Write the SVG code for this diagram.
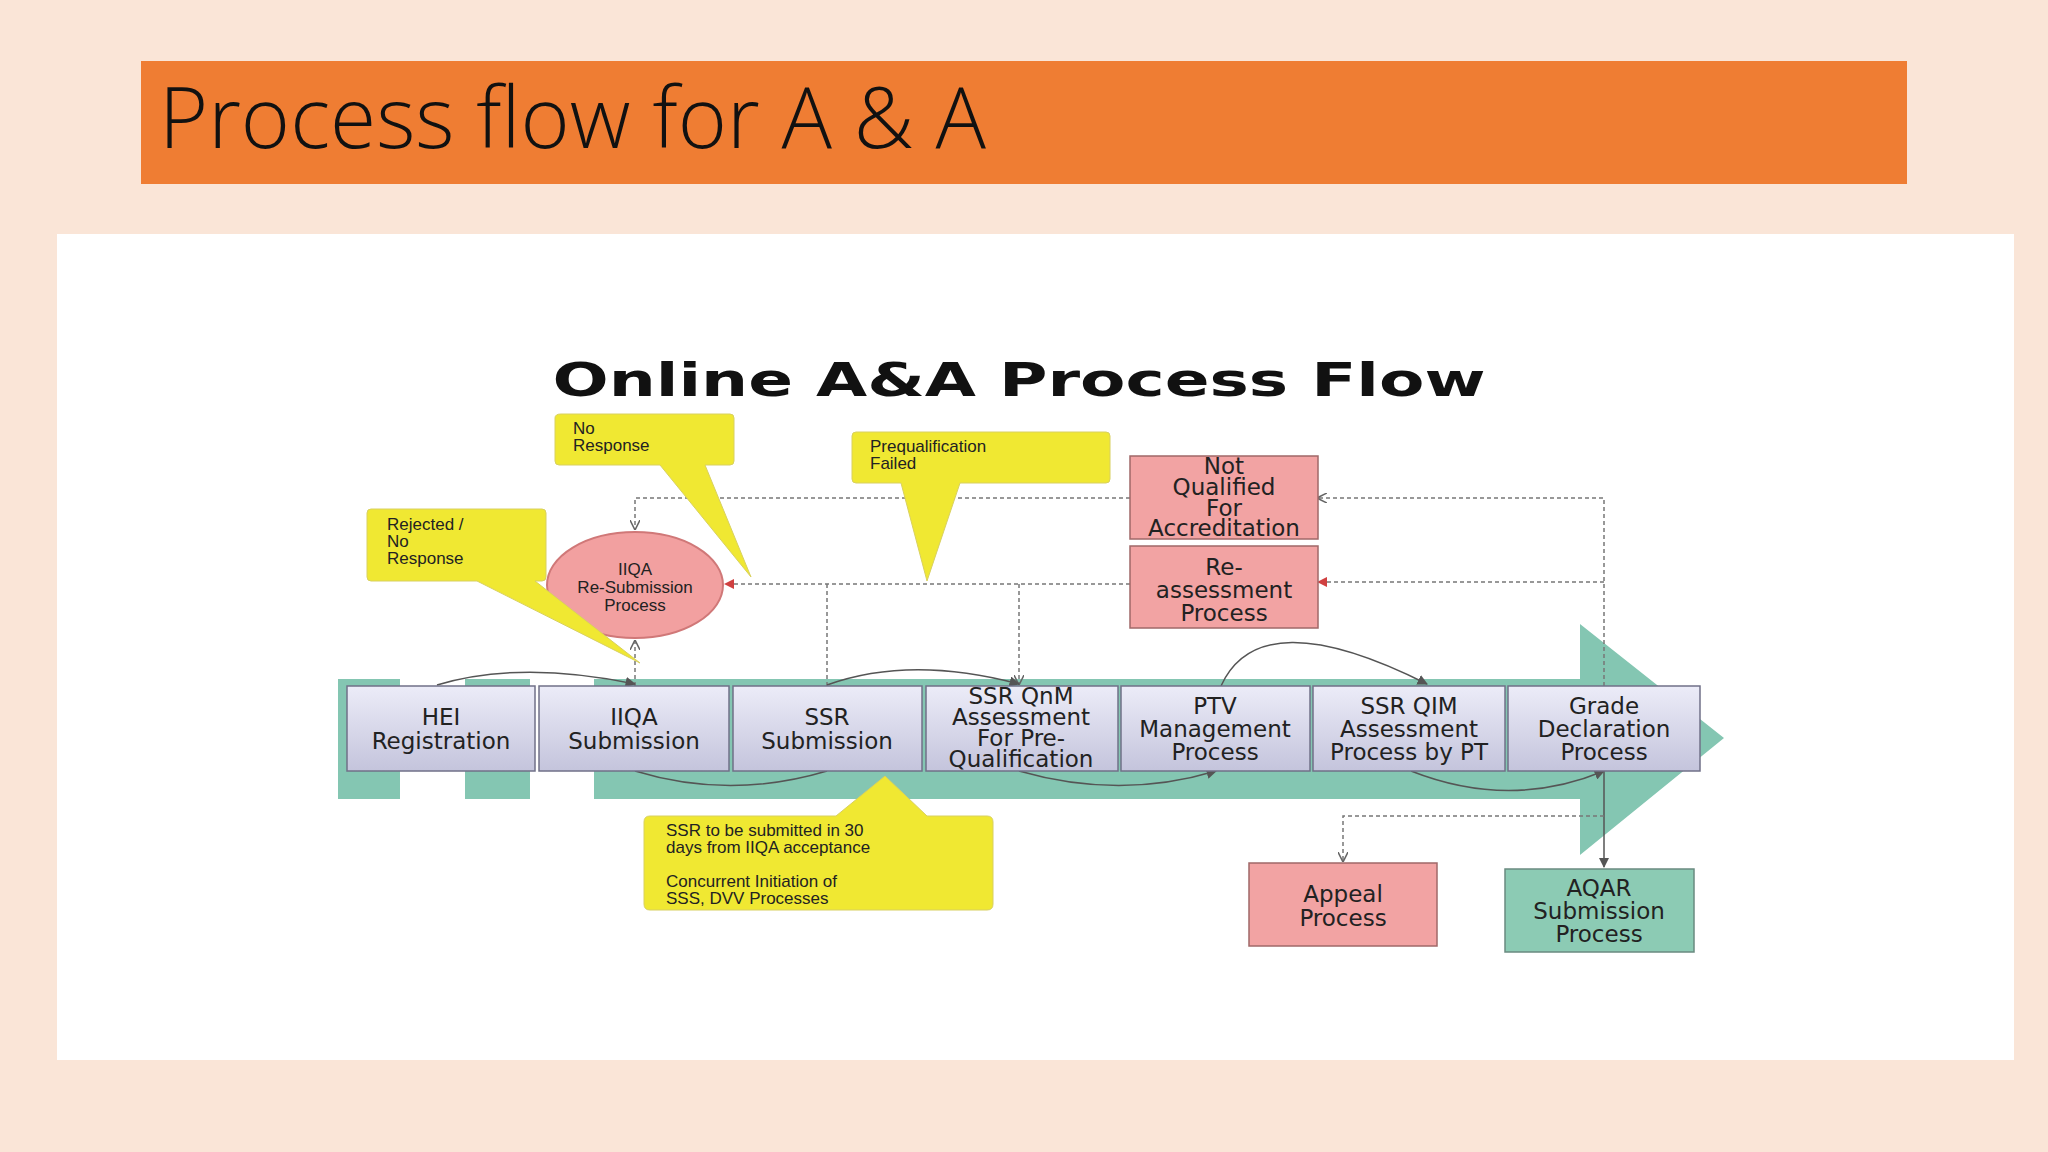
<svg xmlns="http://www.w3.org/2000/svg" width="2048" height="1152" viewBox="0 0 2048 1152">
<defs>
<linearGradient id="bx" x1="0" y1="0" x2="0" y2="1"><stop offset="0" stop-color="#ECECF8"/><stop offset="1" stop-color="#C4C4DC"/></linearGradient>
<marker id="ah" viewBox="0 0 10 10" refX="9" refY="5" markerWidth="7" markerHeight="7" orient="auto"><path d="M0,0 L10,5 L0,10" fill="none" stroke="#666" stroke-width="1.5"/></marker>
<marker id="ahr" viewBox="0 0 10 10" refX="9" refY="5" markerWidth="7" markerHeight="7" orient="auto"><path d="M0,0 L10,5 L0,10 z" fill="#D04040"/></marker>
<marker id="ahs" viewBox="0 0 10 10" refX="9" refY="5" markerWidth="7" markerHeight="7" orient="auto"><path d="M0,0 L10,5 L0,10 z" fill="#555"/></marker>
<style>
.bt{font-family:"DejaVu Sans",sans-serif;font-size:23px;fill:#222;text-anchor:middle}
.ct{font-family:"Liberation Sans",Arial,sans-serif;font-size:17px;fill:#222}
.box{fill:url(#bx);stroke:#707088;stroke-width:1.5}
.pk{fill:#F2A3A3;stroke:#A06868;stroke-width:1.5}
.yl{fill:#F0E832;stroke:#D8D060;stroke-width:1}
.dash{fill:none;stroke:#777;stroke-width:1.5;stroke-dasharray:4 3}
.arc{fill:none;stroke:#555;stroke-width:1.5}
</style>
</defs>
<rect width="2048" height="1152" fill="#FAE5D7"/>
<rect x="141" y="61" width="1766" height="123" fill="#EF7D33"/>
<text x="159" y="148" font-family="'Open Sans',sans-serif" font-weight="300" font-size="84" fill="#111" textLength="827" lengthAdjust="spacingAndGlyphs">Process flow for A &amp; A</text>
<rect x="57" y="234" width="1957" height="826" fill="#FFFFFF"/>
<text x="1019" y="396" font-family="'DejaVu Sans',sans-serif" font-weight="bold" font-size="46" fill="#111" text-anchor="middle" textLength="933" lengthAdjust="spacingAndGlyphs">Online A&amp;A Process Flow</text>

<g id="band" fill="#84C6B2">
<rect x="338" y="679" width="62" height="120"/>
<rect x="465" y="679" width="65" height="120"/>
<path d="M594,679 H1580 V624 L1724,738 L1580,855 V799 H594 Z"/>
</g>

<g id="connectors">
<path class="dash" d="M1604,686 V498 H1318" marker-end="url(#ah)"/>
<path class="dash" d="M1130,498 H635 V529" marker-end="url(#ah)"/>
<path class="dash" d="M1604,582 H1318" marker-end="url(#ahr)"/>
<path class="dash" d="M1130,584 H725" marker-end="url(#ahr)"/>
<path class="dash" d="M827,686 V584"/>
<path class="dash" d="M1019,584 V684" marker-end="url(#ah)"/>
<path class="dash" d="M635,686 V641" marker-end="url(#ah)"/>
<path class="arc" d="M437,685 Q520,660 635,684" marker-end="url(#ahs)"/>
<path class="arc" d="M827,685 Q910,655 1019,684" marker-end="url(#ahs)"/>
<path class="arc" d="M1221,686 Q1260,600 1427,684" marker-end="url(#ahs)"/>
<path class="arc" d="M635,771 Q730,800 827,771"/>
<path class="arc" d="M1019,771 Q1120,800 1216,771" marker-end="url(#ahs)"/>
<path class="arc" d="M1411,771 Q1510,810 1604,771" marker-end="url(#ahs)"/>
<path d="M1604,771 V867" fill="none" stroke="#555" stroke-width="1.5" marker-end="url(#ahs)"/>
<path class="dash" d="M1604,816 H1343 V861" marker-end="url(#ah)"/>
</g>

<g id="n-circle"><ellipse cx="635" cy="585" rx="88" ry="53" fill="#F2A0A0" stroke="#D07878" stroke-width="2"/><text class="ct" text-anchor="middle" font-size="16"><tspan x="635" y="575">IIQA</tspan><tspan x="635" y="593">Re-Submission</tspan><tspan x="635" y="611">Process</tspan></text></g>

<g id="callouts">
<g id="c-noresp"><path class="yl" d="M561,414 H730 Q734,414 734,418 V461 Q734,465 730,465 H705 L751,577 L660,465 H559 Q555,465 555,461 V418 Q555,414 561,414 Z"/><text class="ct"><tspan x="573" y="434">No</tspan><tspan x="573" y="451">Response</tspan></text></g>
<g id="c-prequal"><path class="yl" d="M856,432 H1106 Q1110,432 1110,436 V479 Q1110,483 1106,483 H960 L927,581 L901,483 H856 Q852,483 852,479 V436 Q852,432 856,432 Z"/><text class="ct"><tspan x="870" y="452">Prequalification</tspan><tspan x="870" y="469">Failed</tspan></text></g>
<g id="c-rejected"><path class="yl" d="M371,509 H542 Q546,509 546,513 V577 Q546,581 542,581 H535 L640,663 L477,581 H371 Q367,581 367,577 V513 Q367,509 371,509 Z"/><text class="ct"><tspan x="387" y="530">Rejected /</tspan><tspan x="387" y="547">No</tspan><tspan x="387" y="564">Response</tspan></text></g>
<g id="c-ssr"><path class="yl" d="M650,816 H836 L885,776 L927,816 H987 Q993,816 993,822 V904 Q993,910 987,910 H650 Q644,910 644,904 V822 Q644,816 650,816 Z"/><text class="ct"><tspan x="666" y="836">SSR to be submitted in 30</tspan><tspan x="666" y="853">days from IIQA  acceptance</tspan><tspan x="666" y="887">Concurrent Initiation of</tspan><tspan x="666" y="904">SSS, DVV Processes</tspan></text></g>
</g>

<g id="n-hei"><rect class="box" x="347" y="686" width="188" height="85"/><text class="bt"><tspan x="441" y="725">HEI</tspan><tspan x="441" y="749">Registration</tspan></text></g>
<g id="n-iiqa"><rect class="box" x="539" y="686" width="190" height="85"/><text class="bt"><tspan x="634" y="725">IIQA</tspan><tspan x="634" y="749">Submission</tspan></text></g>
<g id="n-ssr"><rect class="box" x="733" y="686" width="189" height="85"/><text class="bt"><tspan x="827" y="725">SSR</tspan><tspan x="827" y="749">Submission</tspan></text></g>
<g id="n-qnm"><rect class="box" x="926" y="686" width="192" height="85"/><text class="bt" font-size="17"><tspan x="1021" y="704">SSR QnM</tspan><tspan x="1021" y="725">Assessment</tspan><tspan x="1021" y="746">For Pre-</tspan><tspan x="1021" y="767">Qualification</tspan></text></g>
<g id="n-ptv"><rect class="box" x="1121" y="686" width="189" height="85"/><text class="bt" font-size="20"><tspan x="1215" y="714">PTV</tspan><tspan x="1215" y="737">Management</tspan><tspan x="1215" y="760">Process</tspan></text></g>
<g id="n-qim"><rect class="box" x="1313" y="686" width="192" height="85"/><text class="bt" font-size="20"><tspan x="1409" y="714">SSR QIM</tspan><tspan x="1409" y="737">Assessment</tspan><tspan x="1409" y="760">Process by PT</tspan></text></g>
<g id="n-grade"><rect class="box" x="1508" y="686" width="192" height="85"/><text class="bt" font-size="20"><tspan x="1604" y="714">Grade</tspan><tspan x="1604" y="737">Declaration</tspan><tspan x="1604" y="760">Process</tspan></text></g>

<g id="n-nq"><rect class="pk" x="1130" y="456" width="188" height="83"/><text class="bt" font-size="17"><tspan x="1224" y="474">Not</tspan><tspan x="1224" y="495">Qualified</tspan><tspan x="1224" y="516">For</tspan><tspan x="1224" y="536">Accreditation</tspan></text></g>
<g id="n-re"><rect class="pk" x="1130" y="546" width="188" height="82"/><text class="bt" font-size="20"><tspan x="1224" y="575">Re-</tspan><tspan x="1224" y="598">assessment</tspan><tspan x="1224" y="621">Process</tspan></text></g>
<g id="n-appeal"><rect class="pk" x="1249" y="863" width="188" height="83"/><text class="bt" font-size="22"><tspan x="1343" y="902">Appeal</tspan><tspan x="1343" y="926">Process</tspan></text></g>
<g id="n-aqar"><rect x="1505" y="869" width="189" height="83" fill="#8CCBB4" stroke="#6A8A80" stroke-width="1.5"/><text class="bt" font-size="20"><tspan x="1599" y="896">AQAR</tspan><tspan x="1599" y="919">Submission</tspan><tspan x="1599" y="942">Process</tspan></text></g>
</svg>
